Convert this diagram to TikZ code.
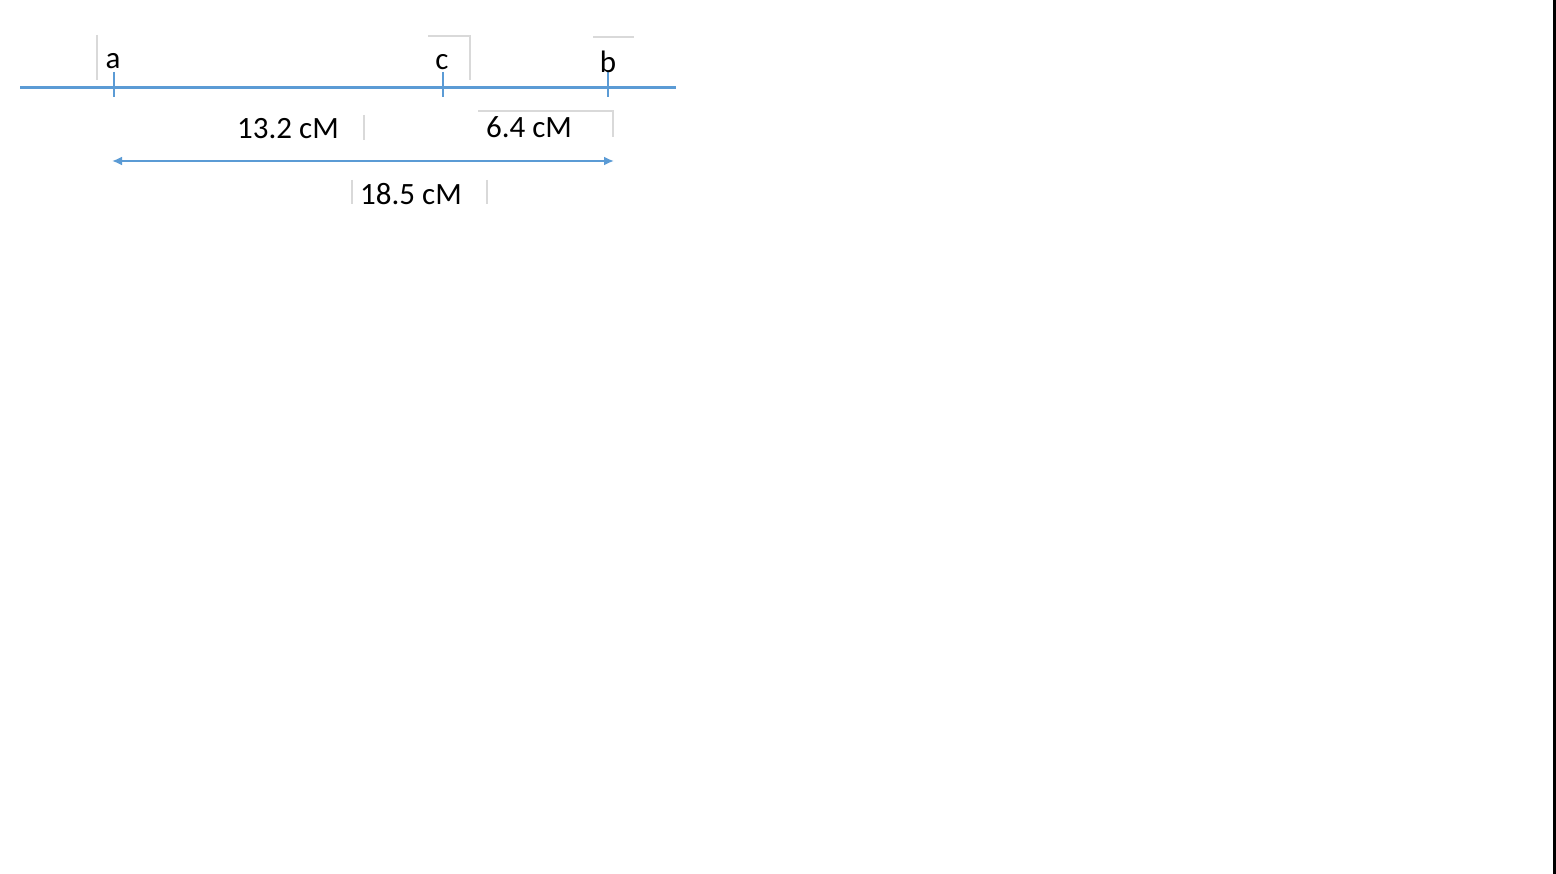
\documentclass[tikz,border=0pt]{standalone}
\usepackage{fontspec}
\setmainfont{Carlito}
\usetikzlibrary{arrows.meta}
\definecolor{lineblue}{HTML}{5B9BD5}
\definecolor{boxgray}{HTML}{D9D9D9}
\tikzset{
  chrom/.style={draw=lineblue, line width=3pt},
  tick/.style={draw=lineblue, line width=2.5pt},
  dist/.style={draw=lineblue, line width=2.8pt, {Latex[length=10pt,width=9pt]}-{Latex[length=10pt,width=9pt]}},
  lbl/.style={inner sep=0pt, font=\fontsize{31}{37}\selectfont, text=black},
  boxedge/.style={draw=boxgray, line width=1.5pt},
}
\begin{document}
\begin{tikzpicture}[x=1pt,y=-1pt]
\useasboundingbox (0,0) rectangle (1556,874);
\fill[white] (0,0) rectangle (1556,874);
% faint text-box edges
\draw[boxedge] (97,35) -- (97,80);
\draw[boxedge] (364,115) -- (364,140);
\draw[boxedge] (428,36) -- (470,36) -- (470,80);
\draw[boxedge] (593,37) -- (634,37);
\draw[boxedge] (478,111) -- (613,111) -- (613,137);
\draw[boxedge] (352,180) -- (352,204);
\draw[boxedge] (487,180) -- (487,204);
% right border
\draw[black, line width=2.5pt] (1554.5,0) -- (1554.5,874);
% chromosome line
\coordinate (L) at (20,88);
\coordinate (R) at (676,88);
\draw[chrom] (L) -- (R);
% ticks
\coordinate (at) at (114,72); \coordinate (ab) at (114,97);
\coordinate (ct) at (443,72); \coordinate (cb) at (443,97);
\coordinate (bt) at (608,72); \coordinate (bb) at (608,97);
\draw[tick] (at) -- (ab);
\draw[tick] (ct) -- (cb);
\draw[tick] (bt) -- (bb);
% locus labels
\node[lbl] (la) at (113,61) {a};
\node[lbl] (lc) at (442,62) {c};
\node[lbl] (lb) at (608,62) {b};
% distances
\node[lbl] (d1) at (288,129) {13.2 cM};
\node[lbl] (d2) at (529,127) {6.4 cM};
\coordinate (s) at (112,161);
\coordinate (e) at (614,161);
\draw[dist] (s) -- (e);
\node[lbl] (d3) at (411,194) {18.5 cM};
\end{tikzpicture}
\end{document}
